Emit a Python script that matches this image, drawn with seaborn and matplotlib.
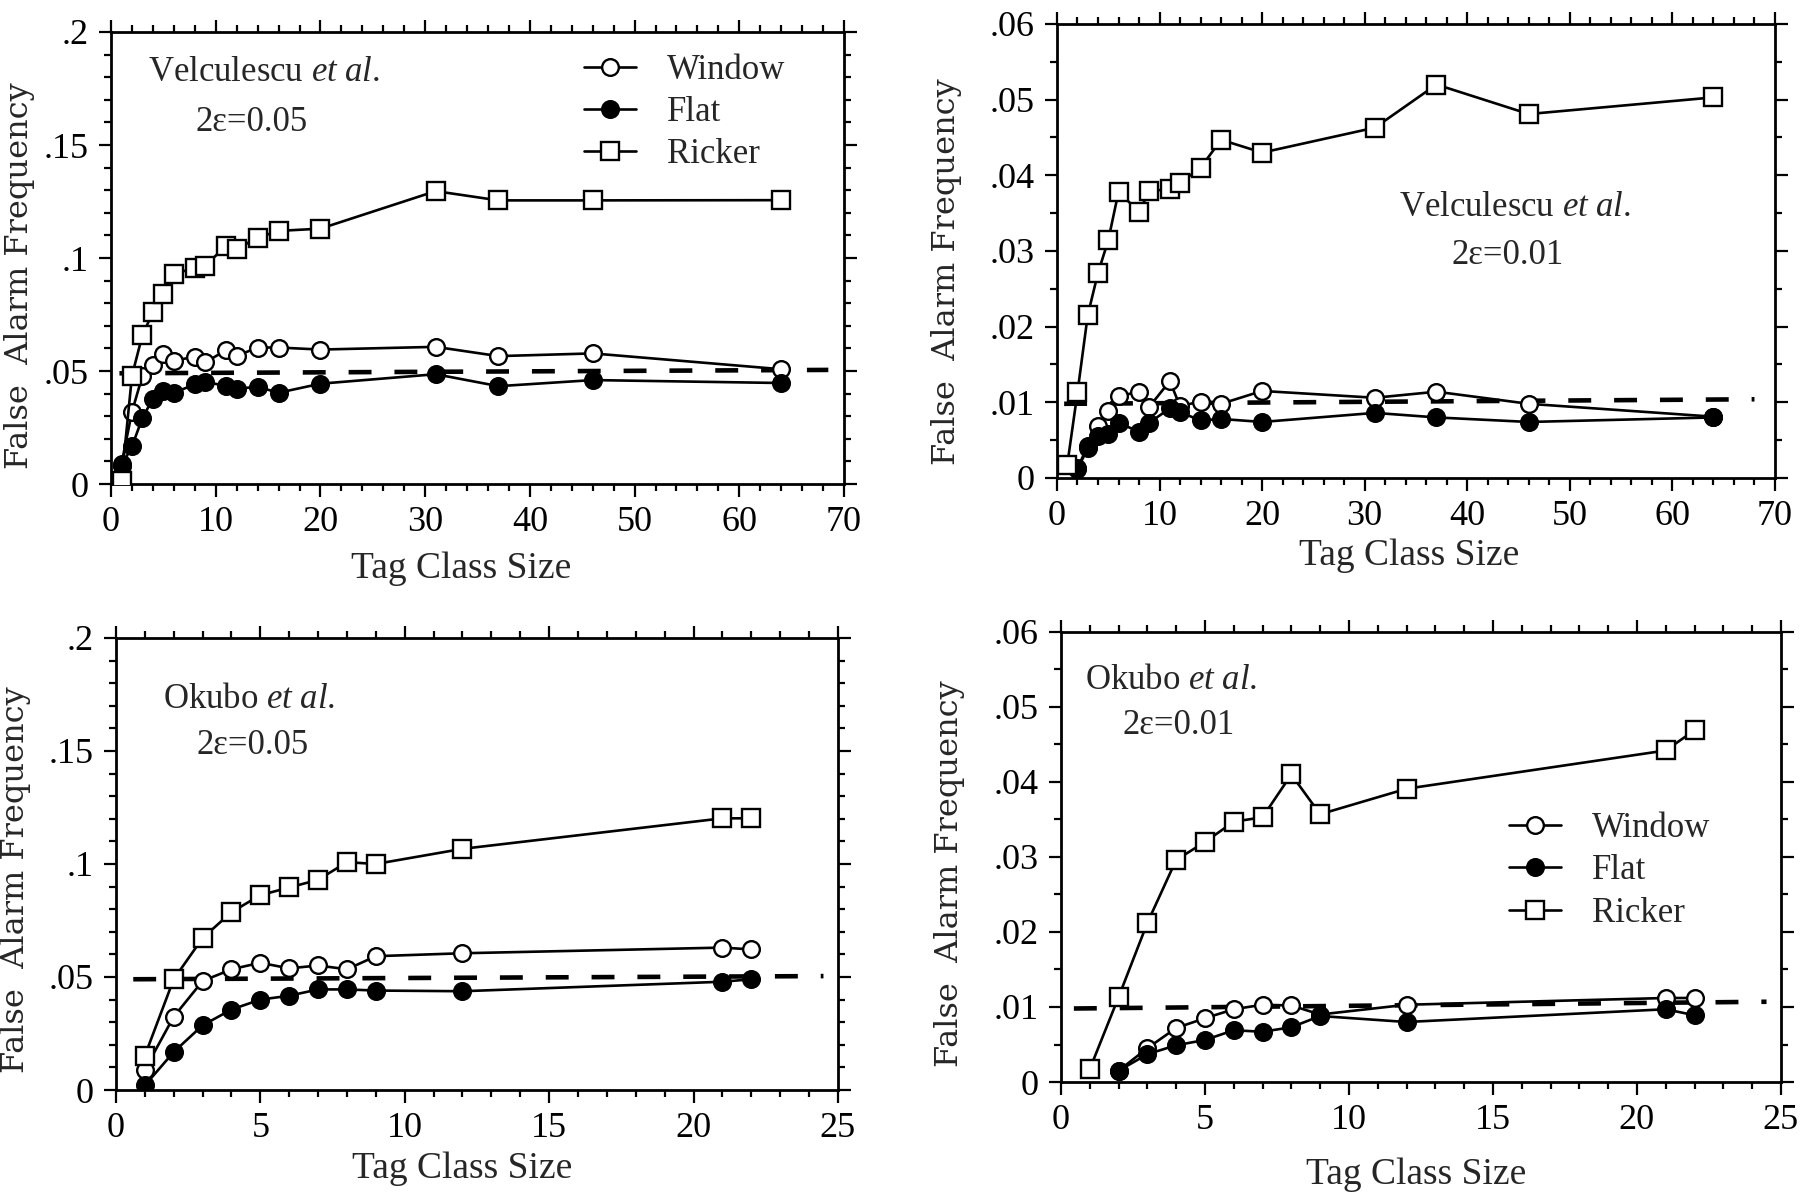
import matplotlib
matplotlib.use("Agg")
import matplotlib.pyplot as plt
from matplotlib.ticker import MultipleLocator, FuncFormatter
import seaborn as sns

# ---- Velculescu et al. (top row) ----
vel_x = [1, 2, 3, 4, 5, 6, 8, 9, 11, 12, 14, 16, 20, 31, 37, 46, 64]
vel05_window = [0.009, 0.032, 0.048, 0.0526, 0.0575, 0.0545, 0.0564, 0.0538, 0.0593,
                0.0567, 0.0604, 0.0604, 0.0595, 0.0607, 0.0566, 0.0578, 0.0508]
vel05_flat = [0.008, 0.0167, 0.0293, 0.0378, 0.041, 0.0404, 0.0441, 0.0452, 0.0434,
              0.0422, 0.043, 0.0404, 0.0444, 0.0486, 0.0433, 0.046, 0.0447]
vel05_ricker = [0.0015, 0.048, 0.066, 0.076, 0.084, 0.093, 0.0956, 0.0966, 0.1055,
                0.104, 0.109, 0.112, 0.113, 0.1296, 0.1255, 0.1255, 0.1256]

vel01_x = [2, 3, 4, 5, 6, 8, 9, 11, 12, 14, 16, 20, 31, 37, 46, 64]
vel01_window = [0.0013, 0.0042, 0.0069, 0.0088, 0.0108, 0.0114, 0.0094, 0.0128,
                0.0095, 0.0101, 0.0098, 0.0115, 0.0106, 0.0114, 0.0098, 0.0081]
vel01_flat = [0.0012, 0.0039, 0.0056, 0.0058, 0.0073, 0.0061, 0.0073, 0.0092,
              0.0087, 0.0076, 0.0078, 0.0074, 0.0086, 0.008, 0.0074, 0.008]
vel01_ricker = [0.0017, 0.0113, 0.0215, 0.0271, 0.0314, 0.0378, 0.0352, 0.0379, 0.0382,
                0.039, 0.041, 0.0447, 0.043, 0.0463, 0.052, 0.0481, 0.0503]

# ---- Okubo et al. (bottom row) ----
oku_x = [1, 2, 3, 4, 5, 6, 7, 8, 9, 12, 21, 22]
oku05_window = [0.009, 0.0324, 0.0482, 0.0534, 0.0563, 0.0538, 0.0551, 0.0534,
                0.0592, 0.0605, 0.063, 0.0622]
oku05_flat = [0.002, 0.0168, 0.0286, 0.0356, 0.040, 0.0417, 0.0445, 0.0445,
              0.044, 0.0437, 0.0479, 0.049]
oku05_ricker = [0.0151, 0.049, 0.0672, 0.0787, 0.0862, 0.0896, 0.093, 0.1008,
                0.100, 0.1067, 0.1202, 0.1202]

oku01_x = [2, 3, 4, 5, 6, 7, 8, 9, 12, 21, 22]
oku01_window = [0.0015, 0.0045, 0.0072, 0.0085, 0.0097, 0.0103, 0.0102, 0.009,
                0.0103, 0.0112, 0.0112]
oku01_flat = [0.0015, 0.0037, 0.0049, 0.0056, 0.0069, 0.0067, 0.0073, 0.0088,
              0.008, 0.0097, 0.0089]
oku01_ricker = [0.0017, 0.0113, 0.0212, 0.0296, 0.032, 0.0347, 0.0353, 0.041,
                0.0357, 0.0391, 0.0442, 0.0469]

# nominal false alarm level (dashed reference line), end points
ref05_vel_x, ref05_vel_y = [0.8, 68.5], [0.049, 0.0505]
ref01_vel_x, ref01_vel_y = [0.7, 68.0], [0.0098, 0.0104]
ref05_oku_x, ref05_oku_y = [0.6, 24.5], [0.049, 0.0504]
ref01_oku_x, ref01_oku_y = [0.45, 24.5], [0.0098, 0.0107]

sns.set_theme(style="ticks")
plt.rcParams["font.family"] = ["Liberation Serif", "DejaVu Serif"]
plt.rcParams["mathtext.fontset"] = "custom"
plt.rcParams["mathtext.rm"] = "Liberation Serif"
plt.rcParams["mathtext.it"] = "Liberation Serif:italic"

FS = 25


def frac_fmt(v, pos):
    if abs(v) < 1e-12:
        return "0"
    return f"{v:g}".lstrip("0")


def draw_panel(ax, xr, ricker, xw, window, flat, rx, ry, xmax, ymax,
               xmaj, xmin, ymaj, ymin):
    sns.lineplot(x=rx, y=ry, ax=ax, color="black", lw=3.3,
                 linestyle=(0, (5.0, 5.0)), zorder=1)
    line_kw = dict(ax=ax, color="black", lw=1.9, markersize=12,
                   markeredgewidth=1.7, markeredgecolor="black", sort=False)
    sns.lineplot(x=xw, y=window, marker="o", markerfacecolor="white",
                 label="Window", zorder=2, **line_kw)
    sns.lineplot(x=xw, y=flat, marker="o", markerfacecolor="black",
                 label="Flat", zorder=3, **line_kw)
    sns.lineplot(x=xr, y=ricker, marker="s", markerfacecolor="white",
                 label="Ricker", zorder=4, **{**line_kw, "markersize": 12.5})
    if ax.get_legend() is not None:
        ax.get_legend().remove()

    ax.set_xlim(0, xmax)
    ax.set_ylim(0, ymax)
    ax.xaxis.set_major_locator(MultipleLocator(xmaj))
    ax.xaxis.set_minor_locator(MultipleLocator(xmin))
    ax.yaxis.set_major_locator(MultipleLocator(ymaj))
    ax.yaxis.set_minor_locator(MultipleLocator(ymin))
    ax.yaxis.set_major_formatter(FuncFormatter(frac_fmt))
    ax.tick_params(which="both", direction="out", top=True, right=True,
                   width=1.6, colors="black", labelsize=FS + 1, pad=7)
    ax.tick_params(which="major", length=9)
    ax.tick_params(which="minor", length=5)
    for s in ax.spines.values():
        s.set_visible(True)
        s.set_linewidth(2.0)
        s.set_color("black")
    ax.set_xlabel("Tag Class Size", fontsize=27)
    ax.set_ylabel("False  Alarm Frequency", fontsize=23, family="DejaVu Serif")


def add_legend(ax, anchor):
    h = ax.lines[1:4]
    ax.legend(handles=h, labels=["Window", "Flat", "Ricker"], loc="upper left",
              bbox_to_anchor=anchor, frameon=False, fontsize=FS, handlelength=1.5,
              handletextpad=0.9, labelspacing=0.27, borderpad=0, borderaxespad=0)


fig = plt.figure(figsize=(18, 11.94), dpi=100)
ax_tl = fig.add_axes([0.0617, 0.5946, 0.4072, 0.3786])
ax_tr = fig.add_axes([0.5872, 0.5997, 0.3989, 0.3802])
ax_bl = fig.add_axes([0.0644, 0.0871, 0.4011, 0.3786])
ax_br = fig.add_axes([0.5894, 0.0938, 0.4000, 0.3769])

draw_panel(ax_tl, vel_x, vel05_ricker, vel_x, vel05_window, vel05_flat,
           ref05_vel_x, ref05_vel_y, 70, 0.2, 10, 2, 0.05, 0.01)
draw_panel(ax_tr, vel_x, vel01_ricker, vel01_x, vel01_window, vel01_flat,
           ref01_vel_x, ref01_vel_y, 70, 0.06, 10, 2, 0.01, 0.005)
draw_panel(ax_bl, oku_x, oku05_ricker, oku_x, oku05_window, oku05_flat,
           ref05_oku_x, ref05_oku_y, 25, 0.2, 5, 1, 0.05, 0.01)
draw_panel(ax_br, oku_x, oku01_ricker, oku01_x, oku01_window, oku01_flat,
           ref01_oku_x, ref01_oku_y, 25, 0.06, 5, 1, 0.01, 0.005)

add_legend(ax_tl, (0.645, 0.952))
add_legend(ax_br, (0.622, 0.60))

# panel captions
ax_tl.text(0.05, 0.911, r"Velculescu $\it{et\ al.}$", transform=ax_tl.transAxes,
           fontsize=FS, va="center", ha="left")
ax_tl.text(0.115, 0.80, "2ε=0.05", transform=ax_tl.transAxes,
           fontsize=FS, va="center", ha="left")
ax_tr.text(0.476, 0.595, r"Velculescu $\it{et\ al.}$", transform=ax_tr.transAxes,
           fontsize=FS, va="center", ha="left")
ax_tr.text(0.55, 0.489, "2ε=0.01", transform=ax_tr.transAxes,
           fontsize=FS, va="center", ha="left")
ax_bl.text(0.065, 0.863, r"Okubo $\it{et\ al.}$", transform=ax_bl.transAxes,
           fontsize=FS, va="center", ha="left")
ax_bl.text(0.111, 0.761, "2ε=0.05", transform=ax_bl.transAxes,
           fontsize=FS, va="center", ha="left")
ax_br.text(0.033, 0.893, r"Okubo $\it{et\ al.}$", transform=ax_br.transAxes,
           fontsize=FS, va="center", ha="left")
ax_br.text(0.086, 0.793, "2ε=0.01", transform=ax_br.transAxes,
           fontsize=FS, va="center", ha="left")

# axis label placement
ax_tl.yaxis.set_label_coords(-0.104, 0.46)
ax_bl.yaxis.set_label_coords(-0.118, 0.465)
ax_tr.yaxis.set_label_coords(-0.132, 0.454)
ax_br.yaxis.set_label_coords(-0.133, 0.464)
ax_tl.xaxis.set_label_coords(0.477, -0.150)
ax_bl.xaxis.set_label_coords(0.48, -0.135)
ax_tr.xaxis.set_label_coords(0.49, -0.134)
ax_br.xaxis.set_label_coords(0.494, -0.167)

fig.savefig("out.png", dpi=100, facecolor="white")
